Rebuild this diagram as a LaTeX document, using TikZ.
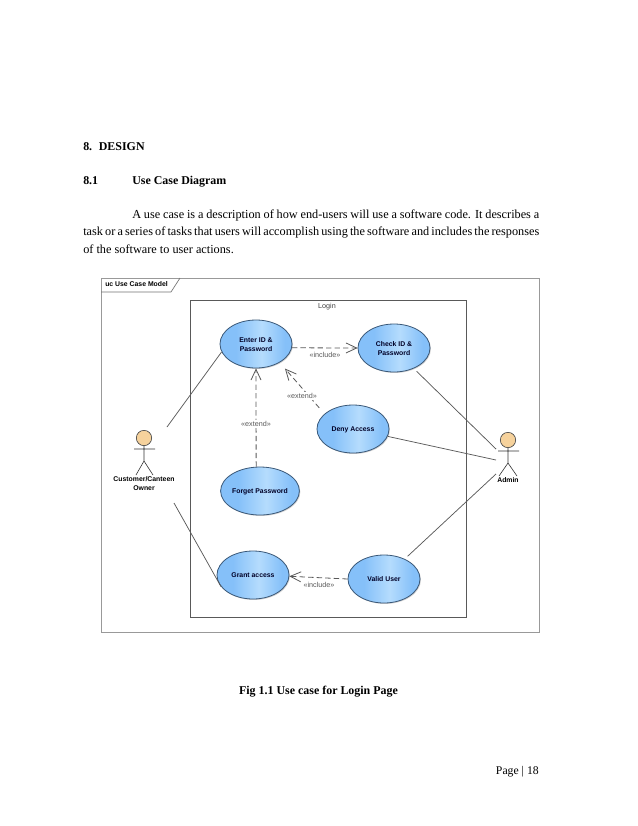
\documentclass[tikz,border=0pt]{standalone}
\usepackage{fontspec}
\setmainfont{Liberation Serif}
\newfontfamily\arialf{Liberation Sans}
\usetikzlibrary{shapes.geometric,arrows.meta,shadows,shadings}
\definecolor{ucblue}{HTML}{85C0F9}
\definecolor{ucmid}{HTML}{B5DCFD}
\definecolor{ucdark}{HTML}{4F94DC}
\definecolor{ucedge}{HTML}{3A5878}
\definecolor{headfill}{HTML}{F6D29C}
\pgfdeclarehorizontalshading{ucshade}{100bp}{color(0bp)=(ucblue); color(36bp)=(ucblue); color(54bp)=(ucmid); color(70bp)=(ucblue); color(100bp)=(ucblue)}
\newcommand{\lowertext}{\rule{0pt}{5pt}}
\tikzset{
  usecase/.style={ellipse,draw=ucedge,line width=0.6pt,minimum width=54pt,minimum height=36pt,inner sep=0pt,
    shading=ucshade,drop shadow={shadow xshift=0.7pt,shadow yshift=-0.7pt,fill=black!35,opacity=0.5},
    path picture={\fill[ucdark,opacity=0.25,shift={(path picture bounding box.center)}] (-40,24) -- (-19,24) -- (-14,8) -- (-40,8) -- cycle;},
    align=center,font=\arialf\bfseries\fontsize{5.15}{6.7}\selectfont,text=black!85!blue},
  body/.style={anchor=base west,inner sep=0pt,font=\fontsize{9.2}{11}\selectfont},
  bodyb/.style={body,font=\bfseries\fontsize{8.95}{11}\selectfont},
  stereo/.style={inner sep=0pt,font=\arialf\fontsize{5.4}{6}\selectfont,text=black!65},
  actorlabel/.style={inner sep=0pt,align=center,font=\arialf\bfseries\fontsize{5.15}{6.7}\selectfont},
  assoc/.style={draw=black!65,line width=0.55pt},
  dep/.style={draw=black!65,line width=0.6pt,dash pattern=on 4pt off 2.4pt,-{Straight Barb[length=8pt,width=7.5pt]}},
  actorline/.style={draw=black!80,line width=0.45pt},
  actorhead/.style={circle,draw=black!70,fill=headfill,line width=0.5pt,minimum size=11.5pt,inner sep=0pt}
}
\begin{document}
\begin{tikzpicture}[x=0.75pt,y=-0.75pt]
\useasboundingbox (0,0) rectangle (638,826);
\fill[white] (0,0) rectangle (638,826);

% page text
\node[bodyb] (t1) at (83,150) {8.\hspace{5pt}DESIGN};
\node[bodyb] (t2) at (83,184) {8.1};
\node[bodyb] (t3) at (132,184) {Use Case Diagram};
\node[body] (p1) at (132,218) {\makebox[305.25pt][s]{A use case is a description of how end-users will use a software code. It describes a}};
\node[body] (p2) at (83,235.5) {\makebox[342pt][s]{task or a series of tasks that users will accomplish using the software and includes the responses}};
\node[body] (p3) at (83,253) {of the software to user actions.};
\node[bodyb,anchor=base] (cap) at (318.5,694) {Fig 1.1 Use case for Login Page};
\node[body,anchor=base east,font=\fontsize{8.8}{11}\selectfont] (pg) at (539,774) {Page | 18};

% frame
\draw[draw=black!40,line width=0.6pt] (101,278) rectangle (539,632);
\draw[draw=black!55,line width=0.5pt] (101,292) -- (171,292) -- (180,278);
\node[inner sep=0pt,anchor=west,font=\arialf\bfseries\fontsize{5.15}{6}\selectfont] (uc) at (105,284.5) {uc Use Case Model};

% system boundary
\draw[draw=black!65,line width=0.6pt] (190,300) rectangle (466,617);
\node[stereo,text=black!75] (login) at (327,307) {Login};

% use cases
\node[usecase] (enter) at (256,344) {\lowertext Enter ID \&\\Password};
\node[usecase] (check) at (394,348) {\lowertext Check ID \&\\Password};
\node[usecase,text depth=0pt] (deny) at (353,429) {Deny Access};
\node[usecase,text depth=0pt] (forget) at (260,491) {Forget Password};
\node[usecase] (grant) at (253,575) {Grant access};
\node[usecase] (valid) at (384,579) {Valid User};

% actors
\node[actorhead] (cust) at (144,438) {};
\draw[actorline] (cust.south) -- (144,461) -- (136,475) (144,461) -- (153,475) (134,449) -- (155,449);
\node[actorlabel] (custl) at (144,483.5) {Customer/Canteen\\Owner};
\node[actorhead] (admin) at (508,440) {};
\draw[actorline] (admin.south) -- (508,463) -- (499,476) (508,463) -- (517,476) (498,451) -- (519,451);
\node[actorlabel] (adminl) at (508,480.5) {Admin};

% association free ends
\coordinate (c1) at (167,427);
\coordinate (c2) at (174,503);
\coordinate (a1) at (496,449);
\coordinate (a2) at (496,460);
\coordinate (a3) at (496,474);

\draw[assoc] (c1) -- (enter.193);
\draw[assoc] (c2) -- (grant.200);
\draw[assoc,shorten <=3pt] (check.-46) -- (a1);
\draw[assoc] (deny.-12.5) -- (a2);
\draw[assoc,shorten <=3pt] (valid.44) -- (a3);

% dependencies
\draw[dep] (enter.-6) -- (check.180);
\draw[dep] (forget.99.5) -- (enter.-90);
\draw[dep,shorten <=6pt,shorten >=6pt] (deny.152) -- (enter.-38);
\draw[dep] (valid.180) -- (grant.-2);

\node[stereo] (l1) at (325,354.5) {«include»};
\node[stereo,fill=white,inner sep=1pt] (l2) at (302,396) {«extend»};
\node[stereo,fill=white,inner sep=1pt] (l3) at (256,424) {«extend»};
\node[stereo] (l4) at (319,584.5) {«include»};
\end{tikzpicture}
\end{document}
